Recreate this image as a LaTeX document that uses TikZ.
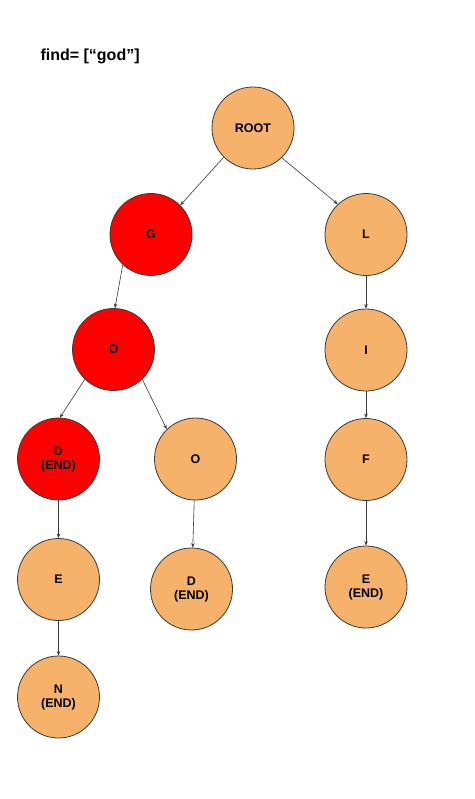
\documentclass[tikz,border=0pt]{standalone}
\usepackage{fontspec}
\setmainfont{Liberation Sans}
\usetikzlibrary{arrows.meta}
\definecolor{lorange}{HTML}{F6B26B}
\definecolor{hred}{HTML}{FF0000}
\definecolor{edgec}{HTML}{3A3A3A}
\begin{document}
\begin{tikzpicture}[x=1pt,y=-1pt,
  trie/.style={circle,draw=edgec,line width=0.8pt,minimum size=82pt,inner sep=0pt,
    align=center,font=\fontsize{12.5}{14}\selectfont\bfseries,text=black},
  plain/.style={trie,fill=lorange},
  hit/.style={trie,fill=hred},
  link/.style={draw=edgec,line width=0.6pt,-{Stealth[length=4.5pt,width=3.5pt]}}]
\useasboundingbox[fill=white] (0,0) rectangle (474,799);
\node[anchor=west,font=\fontsize{16}{19}\selectfont\bfseries] (title) at (37,56) {find= [“god”]};
\node[plain] (root) at (253,128) {ROOT};
\node[hit] (g) at (151,234.5) {G};
\node[plain] (l) at (366,234.5) {L};
\node[hit] (o1) at (113.5,349.5) {O};
\node[plain] (i) at (366,350) {I};
\node[hit] (d1) at (58.5,459) {D\\(END)};
\node[plain] (o2) at (195.5,459) {O};
\node[plain] (f) at (366,459.5) {F};
\node[plain] (e1) at (58.5,579.5) {E};
\node[plain] (d2) at (191.5,589) {D\\(END)};
\node[plain] (e2) at (366,587) {E\\(END)};
\node[plain] (n) at (58.5,697) {N\\(END)};
\draw[link] (root.225) -- (g.45);
\draw[link] (root.314) -- (l.133);
\draw[link] (g.227) -- (o1.88);
\draw[link] (l) -- (i);
\draw[link] (o1.226) -- (d1.88);
\draw[link] (o1.314) -- (o2.134);
\draw[link] (i) -- (f);
\draw[link] (d1) -- (e1);
\draw[link] (o2) -- (d2);
\draw[link] (f) -- (e2);
\draw[link] (e1) -- (n);
\end{tikzpicture}
\end{document}
